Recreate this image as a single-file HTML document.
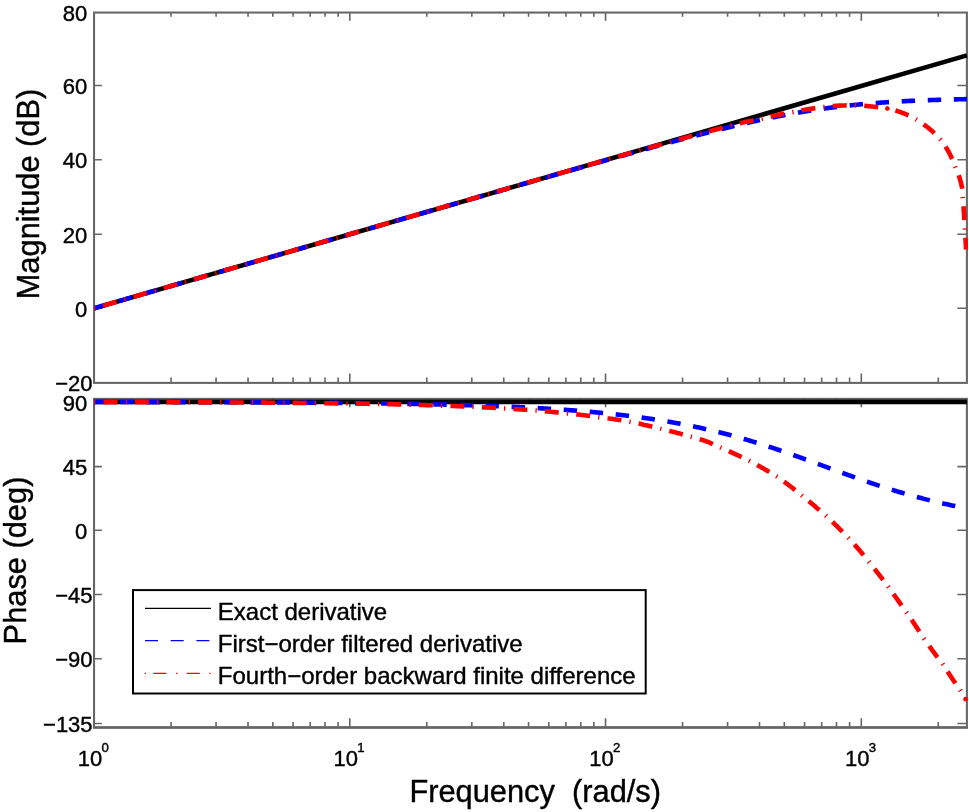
<!DOCTYPE html>
<html lang="en"><head><meta charset="utf-8"><title>Bode plot</title>
<style>html,body{margin:0;padding:0;background:#fff}body{width:969px;height:812px;overflow:hidden}svg{display:block}</style>
</head><body>
<svg width="969" height="812" viewBox="0 0 969 812" font-family="'Liberation Sans', Arial, Helvetica, sans-serif" fill="#000" stroke="#000" stroke-width="0.4">
<rect width="969" height="812" fill="#fff" stroke="none"/>
<defs><clipPath id="c1"><rect x="94.05" y="12.55" width="874.0500000000001" height="370.34999999999997"/></clipPath><clipPath id="c2"><rect x="94.05" y="397.85" width="874.0500000000001" height="329.6"/></clipPath></defs>
<g stroke="#666666" stroke-width="2.05" fill="none"><rect x="94.05" y="12.55" width="872.85" height="370.34999999999997"/><path d="M171.04,382.9v-5.5M171.04,12.55v4.2M216.07,382.9v-5.5M216.07,12.55v4.2M248.03,382.9v-5.5M248.03,12.55v4.2M272.81,382.9v-5.5M272.81,12.55v4.2M293.06,382.9v-5.5M293.06,12.55v4.2M310.18,382.9v-5.5M310.18,12.55v4.2M325.02,382.9v-5.5M325.02,12.55v4.2M338.10,382.9v-5.5M338.10,12.55v4.2M349.80,382.9v-9.3M349.80,12.55v8.3M426.79,382.9v-5.5M426.79,12.55v4.2M471.82,382.9v-5.5M471.82,12.55v4.2M503.78,382.9v-5.5M503.78,12.55v4.2M528.56,382.9v-5.5M528.56,12.55v4.2M548.81,382.9v-5.5M548.81,12.55v4.2M565.93,382.9v-5.5M565.93,12.55v4.2M580.77,382.9v-5.5M580.77,12.55v4.2M593.85,382.9v-5.5M593.85,12.55v4.2M605.55,382.9v-9.3M605.55,12.55v8.3M682.54,382.9v-5.5M682.54,12.55v4.2M727.57,382.9v-5.5M727.57,12.55v4.2M759.53,382.9v-5.5M759.53,12.55v4.2M784.31,382.9v-5.5M784.31,12.55v4.2M804.56,382.9v-5.5M804.56,12.55v4.2M821.68,382.9v-5.5M821.68,12.55v4.2M836.52,382.9v-5.5M836.52,12.55v4.2M849.60,382.9v-5.5M849.60,12.55v4.2M861.30,382.9v-9.3M861.30,12.55v8.3M938.29,382.9v-5.5M938.29,12.55v4.2M94.05,85.50h7.8M966.9,85.50h-9.5M94.05,159.70h7.8M966.9,159.70h-9.5M94.05,234.20h7.8M966.9,234.20h-9.5M94.05,308.30h7.8M966.9,308.30h-9.5" stroke-width="1.6"/></g>
<g clip-path="url(#c1)" fill="none" stroke-width="4.6">
<path d="M94.05,308.30 L966.90,55.40" stroke="#000"/>
<path d="M94.05,308.30 L95.05,308.01 L96.05,307.72 L97.05,307.43 L98.05,307.14 L99.05,306.85 L100.05,306.56 L101.05,306.27 L102.05,305.98 L103.05,305.69 L104.05,305.40 L105.05,305.11 L106.05,304.82 L107.05,304.53 L108.05,304.24 L109.05,303.95 L110.05,303.66 L111.05,303.37 L112.05,303.08 L113.05,302.80 L114.05,302.51 L115.05,302.22 L116.05,301.93 L117.05,301.64 L118.05,301.35 L119.05,301.06 L120.05,300.77 L121.05,300.48 L122.05,300.19 L123.05,299.90 L124.05,299.61 L125.05,299.32 L126.05,299.03 L127.05,298.74 L128.05,298.45 L129.05,298.16 L130.05,297.87 L131.05,297.58 L132.05,297.29 L133.05,297.00 L134.05,296.71 L135.05,296.42 L136.05,296.13 L137.05,295.84 L138.05,295.55 L139.05,295.26 L140.05,294.97 L141.05,294.68 L142.05,294.39 L143.05,294.10 L144.05,293.81 L145.05,293.52 L146.05,293.23 L147.05,292.94 L148.05,292.65 L149.05,292.36 L150.05,292.07 L151.05,291.79 L152.05,291.50 L153.05,291.21 L154.05,290.92 L155.05,290.63 L156.05,290.34 L157.05,290.05 L158.05,289.76 L159.05,289.47 L160.05,289.18 L161.05,288.89 L162.05,288.60 L163.05,288.31 L164.05,288.02 L165.05,287.73 L166.05,287.44 L167.05,287.15 L168.05,286.86 L169.05,286.57 L170.05,286.28 L171.05,285.99 L172.05,285.70 L173.05,285.41 L174.05,285.12 L175.05,284.83 L176.05,284.54 L177.05,284.25 L178.05,283.96 L179.05,283.67 L180.05,283.38 L181.05,283.09 L182.05,282.80 L183.05,282.51 L184.05,282.22 L185.05,281.93 L186.05,281.64 L187.05,281.35 L188.05,281.06 L189.05,280.78 L190.05,280.49 L191.05,280.20 L192.05,279.91 L193.05,279.62 L194.05,279.33 L195.05,279.04 L196.05,278.75 L197.05,278.46 L198.05,278.17 L199.05,277.88 L200.05,277.59 L201.05,277.30 L202.05,277.01 L203.05,276.72 L204.05,276.43 L205.05,276.14 L206.05,275.85 L207.05,275.56 L208.05,275.27 L209.05,274.98 L210.05,274.69 L211.05,274.40 L212.05,274.11 L213.05,273.82 L214.05,273.53 L215.05,273.24 L216.05,272.95 L217.05,272.66 L218.05,272.37 L219.05,272.08 L220.05,271.79 L221.05,271.50 L222.05,271.21 L223.05,270.92 L224.05,270.63 L225.05,270.34 L226.05,270.06 L227.05,269.77 L228.05,269.48 L229.05,269.19 L230.05,268.90 L231.05,268.61 L232.05,268.32 L233.05,268.03 L234.05,267.74 L235.05,267.45 L236.05,267.16 L237.05,266.87 L238.05,266.58 L239.05,266.29 L240.05,266.00 L241.05,265.71 L242.05,265.42 L243.05,265.13 L244.05,264.84 L245.05,264.55 L246.05,264.26 L247.05,263.97 L248.05,263.68 L249.05,263.39 L250.05,263.10 L251.05,262.81 L252.05,262.52 L253.05,262.23 L254.05,261.94 L255.05,261.65 L256.05,261.36 L257.05,261.07 L258.05,260.78 L259.05,260.49 L260.05,260.20 L261.05,259.91 L262.05,259.63 L263.05,259.34 L264.05,259.05 L265.05,258.76 L266.05,258.47 L267.05,258.18 L268.05,257.89 L269.05,257.60 L270.05,257.31 L271.05,257.02 L272.05,256.73 L273.05,256.44 L274.05,256.15 L275.05,255.86 L276.05,255.57 L277.05,255.28 L278.05,254.99 L279.05,254.70 L280.05,254.41 L281.05,254.12 L282.05,253.83 L283.05,253.54 L284.05,253.25 L285.05,252.96 L286.05,252.67 L287.05,252.38 L288.05,252.09 L289.05,251.80 L290.05,251.51 L291.05,251.22 L292.05,250.93 L293.05,250.64 L294.05,250.35 L295.05,250.06 L296.05,249.77 L297.05,249.48 L298.05,249.20 L299.05,248.91 L300.05,248.62 L301.05,248.33 L302.05,248.04 L303.05,247.75 L304.05,247.46 L305.05,247.17 L306.05,246.88 L307.05,246.59 L308.05,246.30 L309.05,246.01 L310.05,245.72 L311.05,245.43 L312.05,245.14 L313.05,244.85 L314.05,244.56 L315.05,244.27 L316.05,243.98 L317.05,243.69 L318.05,243.40 L319.05,243.11 L320.05,242.82 L321.05,242.53 L322.05,242.24 L323.05,241.95 L324.05,241.66 L325.05,241.37 L326.05,241.08 L327.05,240.79 L328.05,240.50 L329.05,240.21 L330.05,239.92 L331.05,239.63 L332.05,239.35 L333.05,239.06 L334.05,238.77 L335.05,238.48 L336.05,238.19 L337.05,237.90 L338.05,237.61 L339.05,237.32 L340.05,237.03 L341.05,236.74 L342.05,236.45 L343.05,236.16 L344.05,235.87 L345.05,235.58 L346.05,235.29 L347.05,235.00 L348.05,234.71 L349.05,234.42 L350.05,234.13 L351.05,233.84 L352.05,233.55 L353.05,233.26 L354.05,232.97 L355.05,232.68 L356.05,232.39 L357.05,232.10 L358.05,231.81 L359.05,231.52 L360.05,231.23 L361.05,230.94 L362.05,230.65 L363.05,230.37 L364.05,230.08 L365.05,229.79 L366.05,229.50 L367.05,229.21 L368.05,228.92 L369.05,228.63 L370.05,228.34 L371.05,228.05 L372.05,227.76 L373.05,227.47 L374.05,227.18 L375.05,226.89 L376.05,226.60 L377.05,226.31 L378.05,226.02 L379.05,225.73 L380.05,225.44 L381.05,225.15 L382.05,224.86 L383.05,224.57 L384.05,224.28 L385.05,223.99 L386.05,223.70 L387.05,223.41 L388.05,223.12 L389.05,222.83 L390.05,222.55 L391.05,222.26 L392.05,221.97 L393.05,221.68 L394.05,221.39 L395.05,221.10 L396.05,220.81 L397.05,220.52 L398.05,220.23 L399.05,219.94 L400.05,219.65 L401.05,219.36 L402.05,219.07 L403.05,218.78 L404.05,218.49 L405.05,218.20 L406.05,217.91 L407.05,217.62 L408.05,217.33 L409.05,217.04 L410.05,216.75 L411.05,216.46 L412.05,216.17 L413.05,215.88 L414.05,215.60 L415.05,215.31 L416.05,215.02 L417.05,214.73 L418.05,214.44 L419.05,214.15 L420.05,213.86 L421.05,213.57 L422.05,213.28 L423.05,212.99 L424.05,212.70 L425.05,212.41 L426.05,212.12 L427.05,211.83 L428.05,211.54 L429.05,211.25 L430.05,210.96 L431.05,210.67 L432.05,210.38 L433.05,210.09 L434.05,209.81 L435.05,209.52 L436.05,209.23 L437.05,208.94 L438.05,208.65 L439.05,208.36 L440.05,208.07 L441.05,207.78 L442.05,207.49 L443.05,207.20 L444.05,206.91 L445.05,206.62 L446.05,206.33 L447.05,206.04 L448.05,205.75 L449.05,205.46 L450.05,205.17 L451.05,204.89 L452.05,204.60 L453.05,204.31 L454.05,204.02 L455.05,203.73 L456.05,203.44 L457.05,203.15 L458.05,202.86 L459.05,202.57 L460.05,202.28 L461.05,201.99 L462.05,201.70 L463.05,201.41 L464.05,201.12 L465.05,200.83 L466.05,200.55 L467.05,200.26 L468.05,199.97 L469.05,199.68 L470.05,199.39 L471.05,199.10 L472.05,198.81 L473.05,198.52 L474.05,198.23 L475.05,197.94 L476.05,197.65 L477.05,197.36 L478.05,197.08 L479.05,196.79 L480.05,196.50 L481.05,196.21 L482.05,195.92 L483.05,195.63 L484.05,195.34 L485.05,195.05 L486.05,194.76 L487.05,194.47 L488.05,194.18 L489.05,193.90 L490.05,193.61 L491.05,193.32 L492.05,193.03 L493.05,192.74 L494.05,192.45 L495.05,192.16 L496.05,191.87 L497.05,191.58 L498.05,191.30 L499.05,191.01 L500.05,190.72 L501.05,190.43 L502.05,190.14 L503.05,189.85 L504.05,189.56 L505.05,189.27 L506.05,188.99 L507.05,188.70 L508.05,188.41 L509.05,188.12 L510.05,187.83 L511.05,187.54 L512.05,187.25 L513.05,186.96 L514.05,186.68 L515.05,186.39 L516.05,186.10 L517.05,185.81 L518.05,185.52 L519.05,185.23 L520.05,184.95 L521.05,184.66 L522.05,184.37 L523.05,184.08 L524.05,183.79 L525.05,183.50 L526.05,183.22 L527.05,182.93 L528.05,182.64 L529.05,182.35 L530.05,182.06 L531.05,181.77 L532.05,181.49 L533.05,181.20 L534.05,180.91 L535.05,180.62 L536.05,180.33 L537.05,180.05 L538.05,179.76 L539.05,179.47 L540.05,179.18 L541.05,178.89 L542.05,178.61 L543.05,178.32 L544.05,178.03 L545.05,177.74 L546.05,177.46 L547.05,177.17 L548.05,176.88 L549.05,176.59 L550.05,176.31 L551.05,176.02 L552.05,175.73 L553.05,175.44 L554.05,175.16 L555.05,174.87 L556.05,174.58 L557.05,174.29 L558.05,174.01 L559.05,173.72 L560.05,173.43 L561.05,173.15 L562.05,172.86 L563.05,172.57 L564.05,172.28 L565.05,172.00 L566.05,171.71 L567.05,171.42 L568.05,171.14 L569.05,170.85 L570.05,170.56 L571.05,170.28 L572.05,169.99 L573.05,169.70 L574.05,169.42 L575.05,169.13 L576.05,168.85 L577.05,168.56 L578.05,168.27 L579.05,167.99 L580.05,167.70 L581.05,167.42 L582.05,167.13 L583.05,166.84 L584.05,166.56 L585.05,166.27 L586.05,165.99 L587.05,165.70 L588.05,165.42 L589.05,165.13 L590.05,164.85 L591.05,164.56 L592.05,164.28 L593.05,163.99 L594.05,163.71 L595.05,163.42 L596.05,163.14 L597.05,162.85 L598.05,162.57 L599.05,162.28 L600.05,162.00 L601.05,161.71 L602.05,161.43 L603.05,161.15 L604.05,160.86 L605.05,160.58 L606.05,160.29 L607.05,160.01 L608.05,159.73 L609.05,159.44 L610.05,159.16 L611.05,158.88 L612.05,158.59 L613.05,158.31 L614.05,158.03 L615.05,157.75 L616.05,157.46 L617.05,157.18 L618.05,156.90 L619.05,156.62 L620.05,156.33 L621.05,156.05 L622.05,155.77 L623.05,155.49 L624.05,155.21 L625.05,154.93 L626.05,154.64 L627.05,154.36 L628.05,154.08 L629.05,153.80 L630.05,153.52 L631.05,153.24 L632.05,152.96 L633.05,152.68 L634.05,152.40 L635.05,152.12 L636.05,151.84 L637.05,151.56 L638.05,151.28 L639.05,151.00 L640.05,150.72 L641.05,150.45 L642.05,150.17 L643.05,149.89 L644.05,149.61 L645.05,149.33 L646.05,149.06 L647.05,148.78 L648.05,148.50 L649.05,148.22 L650.05,147.95 L651.05,147.67 L652.05,147.39 L653.05,147.12 L654.05,146.84 L655.05,146.57 L656.05,146.29 L657.05,146.02 L658.05,145.74 L659.05,145.47 L660.05,145.19 L661.05,144.92 L662.05,144.64 L663.05,144.37 L664.05,144.10 L665.05,143.82 L666.05,143.55 L667.05,143.28 L668.05,143.01 L669.05,142.73 L670.05,142.46 L671.05,142.19 L672.05,141.92 L673.05,141.65 L674.05,141.38 L675.05,141.11 L676.05,140.84 L677.05,140.57 L678.05,140.30 L679.05,140.03 L680.05,139.76 L681.05,139.50 L682.05,139.23 L683.05,138.96 L684.05,138.70 L685.05,138.43 L686.05,138.16 L687.05,137.90 L688.05,137.63 L689.05,137.37 L690.05,137.10 L691.05,136.84 L692.05,136.58 L693.05,136.31 L694.05,136.05 L695.05,135.79 L696.05,135.53 L697.05,135.26 L698.05,135.00 L699.05,134.74 L700.05,134.48 L701.05,134.22 L702.05,133.97 L703.05,133.71 L704.05,133.45 L705.05,133.19 L706.05,132.93 L707.05,132.68 L708.05,132.42 L709.05,132.17 L710.05,131.91 L711.05,131.66 L712.05,131.40 L713.05,131.15 L714.05,130.90 L715.05,130.65 L716.05,130.40 L717.05,130.15 L718.05,129.90 L719.05,129.65 L720.05,129.40 L721.05,129.15 L722.05,128.90 L723.05,128.65 L724.05,128.41 L725.05,128.16 L726.05,127.92 L727.05,127.67 L728.05,127.43 L729.05,127.19 L730.05,126.95 L731.05,126.70 L732.05,126.46 L733.05,126.22 L734.05,125.98 L735.05,125.75 L736.05,125.51 L737.05,125.27 L738.05,125.04 L739.05,124.80 L740.05,124.57 L741.05,124.33 L742.05,124.10 L743.05,123.87 L744.05,123.64 L745.05,123.41 L746.05,123.18 L747.05,122.95 L748.05,122.72 L749.05,122.49 L750.05,122.27 L751.05,122.04 L752.05,121.82 L753.05,121.60 L754.05,121.37 L755.05,121.15 L756.05,120.93 L757.05,120.71 L758.05,120.49 L759.05,120.28 L760.05,120.06 L761.05,119.84 L762.05,119.63 L763.05,119.42 L764.05,119.20 L765.05,118.99 L766.05,118.78 L767.05,118.57 L768.05,118.36 L769.05,118.16 L770.05,117.95 L771.05,117.75 L772.05,117.54 L773.05,117.34 L774.05,117.14 L775.05,116.94 L776.05,116.74 L777.05,116.54 L778.05,116.34 L779.05,116.14 L780.05,115.95 L781.05,115.75 L782.05,115.56 L783.05,115.37 L784.05,115.18 L785.05,114.99 L786.05,114.80 L787.05,114.61 L788.05,114.43 L789.05,114.24 L790.05,114.06 L791.05,113.88 L792.05,113.70 L793.05,113.52 L794.05,113.34 L795.05,113.16 L796.05,112.99 L797.05,112.81 L798.05,112.64 L799.05,112.47 L800.05,112.30 L801.05,112.13 L802.05,111.96 L803.05,111.79 L804.05,111.62 L805.05,111.46 L806.05,111.30 L807.05,111.13 L808.05,110.97 L809.05,110.81 L810.05,110.66 L811.05,110.50 L812.05,110.34 L813.05,110.19 L814.05,110.04 L815.05,109.89 L816.05,109.73 L817.05,109.59 L818.05,109.44 L819.05,109.29 L820.05,109.15 L821.05,109.00 L822.05,108.86 L823.05,108.72 L824.05,108.58 L825.05,108.44 L826.05,108.30 L827.05,108.17 L828.05,108.03 L829.05,107.90 L830.05,107.77 L831.05,107.64 L832.05,107.51 L833.05,107.38 L834.05,107.25 L835.05,107.13 L836.05,107.00 L837.05,106.88 L838.05,106.76 L839.05,106.64 L840.05,106.52 L841.05,106.40 L842.05,106.28 L843.05,106.17 L844.05,106.05 L845.05,105.94 L846.05,105.83 L847.05,105.72 L848.05,105.61 L849.05,105.50 L850.05,105.39 L851.05,105.29 L852.05,105.18 L853.05,105.08 L854.05,104.98 L855.05,104.87 L856.05,104.77 L857.05,104.68 L858.05,104.58 L859.05,104.48 L860.05,104.39 L861.05,104.29 L862.05,104.20 L863.05,104.11 L864.05,104.02 L865.05,103.93 L866.05,103.84 L867.05,103.75 L868.05,103.67 L869.05,103.58 L870.05,103.50 L871.05,103.42 L872.05,103.33 L873.05,103.25 L874.05,103.17 L875.05,103.09 L876.05,103.02 L877.05,102.94 L878.05,102.86 L879.05,102.79 L880.05,102.72 L881.05,102.64 L882.05,102.57 L883.05,102.50 L884.05,102.43 L885.05,102.36 L886.05,102.29 L887.05,102.23 L888.05,102.16 L889.05,102.10 L890.05,102.03 L891.05,101.97 L892.05,101.91 L893.05,101.85 L894.05,101.78 L895.05,101.73 L896.05,101.67 L897.05,101.61 L898.05,101.55 L899.05,101.49 L900.05,101.44 L901.05,101.38 L902.05,101.33 L903.05,101.28 L904.05,101.22 L905.05,101.17 L906.05,101.12 L907.05,101.07 L908.05,101.02 L909.05,100.97 L910.05,100.92 L911.05,100.88 L912.05,100.83 L913.05,100.79 L914.05,100.74 L915.05,100.70 L916.05,100.65 L917.05,100.61 L918.05,100.57 L919.05,100.52 L920.05,100.48 L921.05,100.44 L922.05,100.40 L923.05,100.36 L924.05,100.32 L925.05,100.29 L926.05,100.25 L927.05,100.21 L928.05,100.18 L929.05,100.14 L930.05,100.10 L931.05,100.07 L932.05,100.04 L933.05,100.00 L934.05,99.97 L935.05,99.94 L936.05,99.90 L937.05,99.87 L938.05,99.84 L939.05,99.81 L940.05,99.78 L941.05,99.75 L942.05,99.72 L943.05,99.69 L944.05,99.67 L945.05,99.64 L946.05,99.61 L947.05,99.58 L948.05,99.56 L949.05,99.53 L950.05,99.51 L951.05,99.48 L952.05,99.46 L953.05,99.43 L954.05,99.41 L955.05,99.38 L956.05,99.36 L957.05,99.34 L958.05,99.32 L959.05,99.29 L960.05,99.27 L961.05,99.25 L962.05,99.23 L963.05,99.21 L964.05,99.19 L965.05,99.17 L966.90,99.13" stroke="#0000ff" stroke-dasharray="13.4 12.7" stroke-dashoffset="0"/>
<path d="M94.05,308.30 L96.05,307.72 L98.05,307.14 L100.05,306.56 L102.05,305.98 L104.05,305.40 L106.05,304.82 L108.05,304.24 L110.05,303.66 L112.05,303.08 L114.05,302.51 L116.05,301.93 L118.05,301.35 L120.05,300.77 L122.05,300.19 L124.05,299.61 L126.05,299.03 L128.05,298.45 L130.05,297.87 L132.05,297.29 L134.05,296.71 L136.05,296.13 L138.05,295.55 L140.05,294.97 L142.05,294.39 L144.05,293.81 L146.05,293.23 L148.05,292.65 L150.05,292.07 L152.05,291.50 L154.05,290.92 L156.05,290.34 L158.05,289.76 L160.05,289.18 L162.05,288.60 L164.05,288.02 L166.05,287.44 L168.05,286.86 L170.05,286.28 L172.05,285.70 L174.05,285.12 L176.05,284.54 L178.05,283.96 L180.05,283.38 L182.05,282.80 L184.05,282.22 L186.05,281.64 L188.05,281.06 L190.05,280.49 L192.05,279.91 L194.05,279.33 L196.05,278.75 L198.05,278.17 L200.05,277.59 L202.05,277.01 L204.05,276.43 L206.05,275.85 L208.05,275.27 L210.05,274.69 L212.05,274.11 L214.05,273.53 L216.05,272.95 L218.05,272.37 L220.05,271.79 L222.05,271.21 L224.05,270.63 L226.05,270.05 L228.05,269.48 L230.05,268.90 L232.05,268.32 L234.05,267.74 L236.05,267.16 L238.05,266.58 L240.05,266.00 L242.05,265.42 L244.05,264.84 L246.05,264.26 L248.05,263.68 L250.05,263.10 L252.05,262.52 L254.05,261.94 L256.05,261.36 L258.05,260.78 L260.05,260.20 L262.05,259.62 L264.05,259.04 L266.05,258.47 L268.05,257.89 L270.05,257.31 L272.05,256.73 L274.05,256.15 L276.05,255.57 L278.05,254.99 L280.05,254.41 L282.05,253.83 L284.05,253.25 L286.05,252.67 L288.05,252.09 L290.05,251.51 L292.05,250.93 L294.05,250.35 L296.05,249.77 L298.05,249.19 L300.05,248.61 L302.05,248.03 L304.05,247.46 L306.05,246.88 L308.05,246.30 L310.05,245.72 L312.05,245.14 L314.05,244.56 L316.05,243.98 L318.05,243.40 L320.05,242.82 L322.05,242.24 L324.05,241.66 L326.05,241.08 L328.05,240.50 L330.05,239.92 L332.05,239.34 L334.05,238.76 L336.05,238.18 L338.05,237.60 L340.05,237.02 L342.05,236.45 L344.05,235.87 L346.05,235.29 L348.05,234.71 L350.05,234.13 L352.05,233.55 L354.05,232.97 L356.05,232.39 L358.05,231.81 L360.05,231.23 L362.05,230.65 L364.05,230.07 L366.05,229.49 L368.05,228.91 L370.05,228.33 L372.05,227.75 L374.05,227.17 L376.05,226.59 L378.05,226.01 L380.05,225.44 L382.05,224.86 L384.05,224.28 L386.05,223.70 L388.05,223.12 L390.05,222.54 L392.05,221.96 L394.05,221.38 L396.05,220.80 L398.05,220.22 L400.05,219.64 L402.05,219.06 L404.05,218.48 L406.05,217.90 L408.05,217.32 L410.05,216.74 L412.05,216.16 L414.05,215.58 L416.05,215.00 L418.05,214.43 L420.05,213.85 L422.05,213.27 L424.05,212.69 L426.05,212.11 L428.05,211.53 L430.05,210.95 L432.05,210.37 L434.05,209.79 L436.05,209.21 L438.05,208.63 L440.05,208.05 L442.05,207.47 L444.05,206.89 L446.05,206.31 L448.05,205.73 L450.05,205.15 L452.05,204.57 L454.05,204.00 L456.05,203.42 L458.05,202.84 L460.05,202.26 L462.05,201.68 L464.05,201.10 L466.05,200.52 L468.05,199.94 L470.05,199.36 L472.05,198.78 L474.05,198.20 L476.05,197.62 L478.05,197.04 L480.05,196.46 L482.05,195.88 L484.05,195.30 L486.05,194.72 L488.05,194.14 L490.05,193.56 L492.05,192.99 L494.05,192.41 L496.05,191.83 L498.05,191.25 L500.05,190.67 L502.05,190.09 L504.05,189.51 L506.05,188.93 L508.05,188.35 L510.05,187.77 L512.05,187.19 L514.05,186.61 L516.05,186.03 L518.05,185.45 L520.05,184.87 L522.05,184.29 L524.05,183.71 L526.05,183.13 L528.05,182.55 L530.05,181.98 L532.05,181.40 L534.05,180.82 L536.05,180.24 L538.05,179.66 L540.05,179.08 L542.05,178.50 L544.05,177.92 L546.05,177.34 L548.05,176.76 L550.05,176.18 L552.05,175.60 L554.05,175.02 L556.05,174.44 L558.05,173.86 L560.05,173.28 L562.05,172.70 L564.05,172.12 L566.05,171.54 L568.05,170.97 L570.05,170.39 L572.05,169.81 L574.05,169.23 L576.05,168.65 L578.05,168.07 L580.05,167.49 L582.05,166.91 L584.05,166.33 L586.05,165.75 L588.05,165.17 L590.05,164.59 L592.05,164.01 L594.05,163.43 L596.05,162.85 L598.05,162.27 L600.00,161.60 L601.14,161.27 L602.27,160.95 L603.41,160.62 L604.55,160.30 L605.69,159.97 L606.82,159.65 L607.96,159.32 L609.10,159.00 L610.24,158.67 L611.37,158.35 L612.51,158.03 L613.65,157.70 L614.79,157.38 L615.93,157.06 L617.06,156.73 L618.20,156.41 L619.34,156.09 L620.48,155.77 L621.62,155.45 L622.75,155.12 L623.89,154.80 L625.03,154.48 L626.17,154.16 L627.31,153.84 L628.45,153.52 L629.59,153.20 L630.72,152.88 L631.86,152.56 L633.00,152.24 L634.14,151.92 L635.28,151.60 L636.42,151.28 L637.56,150.96 L638.70,150.64 L639.84,150.32 L640.98,150.00 L642.11,149.68 L643.25,149.37 L644.39,149.05 L645.53,148.73 L646.67,148.41 L647.81,148.09 L648.95,147.78 L650.09,147.46 L651.23,147.14 L652.37,146.83 L653.51,146.51 L654.65,146.19 L655.79,145.88 L656.93,145.56 L658.07,145.24 L659.21,144.93 L660.35,144.61 L661.49,144.30 L662.63,143.98 L663.77,143.67 L664.91,143.35 L666.05,143.04 L667.19,142.73 L668.33,142.41 L669.47,142.10 L670.61,141.79 L671.75,141.48 L672.90,141.16 L674.04,140.85 L675.18,140.54 L676.32,140.23 L677.46,139.92 L678.60,139.61 L679.74,139.29 L680.88,138.98 L682.02,138.67 L683.17,138.36 L684.31,138.05 L685.45,137.74 L686.59,137.43 L687.73,137.12 L688.87,136.81 L690.01,136.50 L691.16,136.19 L692.30,135.87 L693.44,135.56 L694.58,135.25 L695.72,134.94 L696.86,134.63 L698.00,134.32 L699.14,134.01 L700.29,133.70 L701.43,133.39 L702.57,133.08 L703.71,132.77 L704.85,132.46 L705.99,132.15 L707.14,131.84 L708.28,131.54 L709.42,131.23 L710.57,130.93 L711.71,130.62 L712.85,130.32 L714.00,130.02 L715.14,129.72 L716.28,129.42 L717.43,129.12 L718.57,128.82 L719.72,128.52 L720.86,128.21 L722.00,127.91 L723.15,127.60 L724.29,127.30 L725.44,126.99 L726.58,126.69 L727.72,126.39 L728.87,126.09 L730.01,125.78 L731.16,125.49 L732.30,125.19 L733.45,124.89 L734.59,124.60 L735.74,124.31 L736.89,124.02 L738.04,123.73 L739.19,123.45 L740.33,123.17 L741.48,122.89 L742.63,122.62 L743.79,122.35 L744.94,122.09 L746.09,121.83 L747.25,121.58 L748.40,121.33 L749.56,121.09 L750.72,120.86 L751.88,120.64 L753.04,120.42 L754.21,120.20 L755.37,119.99 L756.53,119.77 L757.70,119.55 L758.86,119.33 L760.02,119.11 L761.18,118.88 L762.34,118.63 L763.49,118.38 L764.65,118.12 L765.80,117.85 L766.95,117.57 L768.10,117.29 L769.24,117.00 L770.39,116.71 L771.54,116.42 L772.69,116.14 L773.84,115.86 L774.99,115.58 L776.14,115.31 L777.29,115.05 L778.45,114.80 L779.61,114.56 L780.77,114.33 L781.93,114.10 L783.09,113.87 L784.25,113.65 L785.41,113.43 L786.57,113.21 L787.74,113.00 L788.90,112.78 L790.07,112.57 L791.23,112.35 L792.39,112.14 L793.55,111.92 L794.72,111.70 L795.88,111.48 L797.04,111.25 L798.20,111.03 L799.37,110.81 L800.53,110.58 L801.69,110.36 L802.85,110.14 L804.02,109.93 L805.18,109.72 L806.35,109.52 L807.51,109.32 L808.68,109.13 L809.85,108.95 L811.02,108.77 L812.19,108.60 L813.36,108.43 L814.53,108.26 L815.70,108.09 L816.87,107.93 L818.04,107.77 L819.22,107.62 L820.39,107.47 L821.57,107.32 L822.74,107.19 L823.91,107.05 L825.09,106.92 L826.27,106.79 L827.44,106.66 L828.62,106.53 L829.80,106.40 L830.97,106.27 L832.15,106.15 L833.33,106.03 L834.51,105.93 L835.69,105.83 L836.87,105.75 L838.05,105.68 L839.23,105.62 L840.41,105.58 L841.59,105.55 L842.77,105.51 L843.95,105.48 L845.14,105.45 L846.32,105.42 L847.50,105.40 L848.69,105.37 L849.87,105.35 L851.05,105.33 L852.24,105.32 L853.42,105.31 L854.60,105.30 L855.78,105.30 L856.97,105.31 L858.15,105.34 L859.33,105.39 L860.51,105.45 L861.69,105.53 L862.87,105.63 L864.05,105.73 L865.23,105.84 L866.41,105.96 L867.59,106.08 L868.76,106.20 L869.94,106.33 L871.12,106.44 L872.30,106.56 L873.47,106.67 L874.65,106.79 L875.83,106.92 L877.01,107.04 L878.19,107.18 L879.37,107.32 L880.55,107.46 L881.72,107.62 L882.89,107.78 L884.06,107.95 L885.23,108.13 L886.39,108.32 L887.55,108.53 L888.70,108.75 L889.85,108.99 L891.01,109.26 L892.16,109.55 L893.30,109.86 L894.45,110.19 L895.59,110.53 L896.73,110.89 L897.86,111.25 L898.98,111.63 L900.10,112.02 L901.21,112.41 L902.32,112.81 L903.42,113.22 L904.51,113.65 L905.61,114.10 L906.70,114.57 L907.78,115.06 L908.86,115.56 L909.93,116.08 L911.00,116.61 L912.06,117.15 L913.11,117.71 L914.15,118.27 L915.18,118.85 L916.20,119.43 L917.21,120.02 L918.22,120.63 L919.22,121.26 L920.21,121.91 L921.19,122.57 L922.17,123.25 L923.14,123.94 L924.10,124.64 L925.05,125.36 L926.00,126.08 L926.93,126.81 L927.86,127.55 L928.77,128.30 L929.67,129.05 L930.58,129.80 L931.48,130.57 L932.37,131.35 L933.26,132.15 L934.15,132.95 L935.02,133.77 L935.88,134.59 L936.73,135.43 L937.56,136.28 L938.37,137.14 L939.16,138.01 L939.93,138.90 L940.67,139.79 L941.40,140.70 L942.11,141.64 L942.81,142.58 L943.50,143.55 L944.18,144.53 L944.84,145.52 L945.49,146.52 L946.13,147.53 L946.75,148.55 L947.35,149.58 L947.94,150.61 L948.52,151.64 L949.08,152.68 L949.62,153.72 L950.15,154.77 L950.66,155.83 L951.16,156.90 L951.64,157.98 L952.11,159.06 L952.58,160.16 L953.04,161.25 L953.49,162.35 L953.94,163.45 L954.38,164.55 L954.83,165.65 L955.27,166.75 L955.72,167.84 L956.18,168.94 L956.64,170.03 L957.11,171.12 L957.56,172.22 L958.00,173.32 L958.43,174.43 L958.83,175.54 L959.21,176.65 L959.55,177.78 L959.88,178.91 L960.21,180.04 L960.54,181.19 L960.85,182.34 L961.15,183.49 L961.43,184.65 L961.68,185.81 L961.91,186.97 L962.10,188.13 L962.26,189.30 L962.37,190.47 L962.47,191.64 L962.56,192.82 L962.63,194.00 L962.70,195.19 L962.77,196.37 L962.84,197.55 L962.92,198.74 L963.01,199.92 L963.09,201.10 L963.18,202.28 L963.26,203.45 L963.34,204.63 L963.43,205.81 L963.51,206.99 L963.59,208.17 L963.67,209.36 L963.75,210.54 L963.83,211.72 L963.91,212.90 L963.99,214.08 L964.06,215.26 L964.14,216.44 L964.21,217.62 L964.29,218.80 L964.36,219.98 L964.43,221.16 L964.49,222.34 L964.56,223.52 L964.62,224.70 L964.68,225.88 L964.74,227.07 L964.80,228.25 L964.87,229.43 L964.94,230.61 L965.01,231.79 L965.09,232.97 L965.16,234.15 L965.24,235.33 L965.32,236.51 L965.40,237.69 L965.47,238.87 L965.55,240.05 L965.62,241.23 L965.69,242.41 L965.76,243.60 L965.83,244.78 L965.90,245.96 L965.97,247.14 L966.03,248.32 L966.10,249.50" stroke="#ff0000" stroke-dasharray="14 8.12 1.3 8.12" stroke-dashoffset="22.12"/>
<circle cx="887.4" cy="108.5" r="2.35" fill="#ff0000" stroke="none"/>
</g>
<g stroke="#666666" stroke-width="2.05" fill="none"><rect x="94.05" y="398.85" width="872.85" height="328.6"/><path d="M171.04,727.45v-5.5M171.04,398.85v4.2M216.07,727.45v-5.5M216.07,398.85v4.2M248.03,727.45v-5.5M248.03,398.85v4.2M272.81,727.45v-5.5M272.81,398.85v4.2M293.06,727.45v-5.5M293.06,398.85v4.2M310.18,727.45v-5.5M310.18,398.85v4.2M325.02,727.45v-5.5M325.02,398.85v4.2M338.10,727.45v-5.5M338.10,398.85v4.2M349.80,727.45v-9.3M349.80,398.85v8.3M426.79,727.45v-5.5M426.79,398.85v4.2M471.82,727.45v-5.5M471.82,398.85v4.2M503.78,727.45v-5.5M503.78,398.85v4.2M528.56,727.45v-5.5M528.56,398.85v4.2M548.81,727.45v-5.5M548.81,398.85v4.2M565.93,727.45v-5.5M565.93,398.85v4.2M580.77,727.45v-5.5M580.77,398.85v4.2M593.85,727.45v-5.5M593.85,398.85v4.2M605.55,727.45v-9.3M605.55,398.85v8.3M682.54,727.45v-5.5M682.54,398.85v4.2M727.57,727.45v-5.5M727.57,398.85v4.2M759.53,727.45v-5.5M759.53,398.85v4.2M784.31,727.45v-5.5M784.31,398.85v4.2M804.56,727.45v-5.5M804.56,398.85v4.2M821.68,727.45v-5.5M821.68,398.85v4.2M836.52,727.45v-5.5M836.52,398.85v4.2M849.60,727.45v-5.5M849.60,398.85v4.2M861.30,727.45v-9.3M861.30,398.85v8.3M938.29,727.45v-5.5M938.29,398.85v4.2M94.05,401.90h7.8M966.9,401.90h-9.5M94.05,466.60h7.8M966.9,466.60h-9.5M94.05,530.20h7.8M966.9,530.20h-9.5M94.05,594.50h7.8M966.9,594.50h-9.5M94.05,658.70h7.8M966.9,658.70h-9.5M94.05,723.50h7.8M966.9,723.50h-9.5" stroke-width="1.6"/></g>
<path d="M93.05,727.6H967.9" stroke="#666666" stroke-width="2.5" fill="none"/>
<g clip-path="url(#c2)" fill="none" stroke-width="4.6">
<path d="M94.05,401.90 L966.90,401.90" stroke="#000"/>
<path d="M94.05,402.01 L95.05,402.02 L96.05,402.02 L97.05,402.02 L98.05,402.02 L99.05,402.02 L100.05,402.02 L101.05,402.02 L102.05,402.02 L103.05,402.02 L104.05,402.03 L105.05,402.03 L106.05,402.03 L107.05,402.03 L108.05,402.03 L109.05,402.03 L110.05,402.03 L111.05,402.03 L112.05,402.03 L113.05,402.04 L114.05,402.04 L115.05,402.04 L116.05,402.04 L117.05,402.04 L118.05,402.04 L119.05,402.04 L120.05,402.04 L121.05,402.05 L122.05,402.05 L123.05,402.05 L124.05,402.05 L125.05,402.05 L126.05,402.05 L127.05,402.05 L128.05,402.06 L129.05,402.06 L130.05,402.06 L131.05,402.06 L132.05,402.06 L133.05,402.06 L134.05,402.06 L135.05,402.07 L136.05,402.07 L137.05,402.07 L138.05,402.07 L139.05,402.07 L140.05,402.07 L141.05,402.07 L142.05,402.08 L143.05,402.08 L144.05,402.08 L145.05,402.08 L146.05,402.08 L147.05,402.08 L148.05,402.09 L149.05,402.09 L150.05,402.09 L151.05,402.09 L152.05,402.09 L153.05,402.09 L154.05,402.10 L155.05,402.10 L156.05,402.10 L157.05,402.10 L158.05,402.10 L159.05,402.11 L160.05,402.11 L161.05,402.11 L162.05,402.11 L163.05,402.11 L164.05,402.11 L165.05,402.12 L166.05,402.12 L167.05,402.12 L168.05,402.12 L169.05,402.12 L170.05,402.13 L171.05,402.13 L172.05,402.13 L173.05,402.13 L174.05,402.14 L175.05,402.14 L176.05,402.14 L177.05,402.14 L178.05,402.14 L179.05,402.15 L180.05,402.15 L181.05,402.15 L182.05,402.15 L183.05,402.16 L184.05,402.16 L185.05,402.16 L186.05,402.16 L187.05,402.16 L188.05,402.17 L189.05,402.17 L190.05,402.17 L191.05,402.17 L192.05,402.18 L193.05,402.18 L194.05,402.18 L195.05,402.18 L196.05,402.19 L197.05,402.19 L198.05,402.19 L199.05,402.19 L200.05,402.20 L201.05,402.20 L202.05,402.20 L203.05,402.21 L204.05,402.21 L205.05,402.21 L206.05,402.21 L207.05,402.22 L208.05,402.22 L209.05,402.22 L210.05,402.23 L211.05,402.23 L212.05,402.23 L213.05,402.23 L214.05,402.24 L215.05,402.24 L216.05,402.24 L217.05,402.25 L218.05,402.25 L219.05,402.25 L220.05,402.26 L221.05,402.26 L222.05,402.26 L223.05,402.27 L224.05,402.27 L225.05,402.27 L226.05,402.28 L227.05,402.28 L228.05,402.28 L229.05,402.29 L230.05,402.29 L231.05,402.29 L232.05,402.30 L233.05,402.30 L234.05,402.30 L235.05,402.31 L236.05,402.31 L237.05,402.31 L238.05,402.32 L239.05,402.32 L240.05,402.33 L241.05,402.33 L242.05,402.33 L243.05,402.34 L244.05,402.34 L245.05,402.35 L246.05,402.35 L247.05,402.35 L248.05,402.36 L249.05,402.36 L250.05,402.37 L251.05,402.37 L252.05,402.37 L253.05,402.38 L254.05,402.38 L255.05,402.39 L256.05,402.39 L257.05,402.40 L258.05,402.40 L259.05,402.41 L260.05,402.41 L261.05,402.41 L262.05,402.42 L263.05,402.42 L264.05,402.43 L265.05,402.43 L266.05,402.44 L267.05,402.44 L268.05,402.45 L269.05,402.45 L270.05,402.46 L271.05,402.46 L272.05,402.47 L273.05,402.47 L274.05,402.48 L275.05,402.48 L276.05,402.49 L277.05,402.49 L278.05,402.50 L279.05,402.51 L280.05,402.51 L281.05,402.52 L282.05,402.52 L283.05,402.53 L284.05,402.53 L285.05,402.54 L286.05,402.54 L287.05,402.55 L288.05,402.56 L289.05,402.56 L290.05,402.57 L291.05,402.57 L292.05,402.58 L293.05,402.59 L294.05,402.59 L295.05,402.60 L296.05,402.61 L297.05,402.61 L298.05,402.62 L299.05,402.62 L300.05,402.63 L301.05,402.64 L302.05,402.64 L303.05,402.65 L304.05,402.66 L305.05,402.67 L306.05,402.67 L307.05,402.68 L308.05,402.69 L309.05,402.69 L310.05,402.70 L311.05,402.71 L312.05,402.71 L313.05,402.72 L314.05,402.73 L315.05,402.74 L316.05,402.74 L317.05,402.75 L318.05,402.76 L319.05,402.77 L320.05,402.78 L321.05,402.78 L322.05,402.79 L323.05,402.80 L324.05,402.81 L325.05,402.82 L326.05,402.82 L327.05,402.83 L328.05,402.84 L329.05,402.85 L330.05,402.86 L331.05,402.87 L332.05,402.88 L333.05,402.88 L334.05,402.89 L335.05,402.90 L336.05,402.91 L337.05,402.92 L338.05,402.93 L339.05,402.94 L340.05,402.95 L341.05,402.96 L342.05,402.97 L343.05,402.98 L344.05,402.99 L345.05,403.00 L346.05,403.01 L347.05,403.02 L348.05,403.03 L349.05,403.04 L350.05,403.05 L351.05,403.06 L352.05,403.07 L353.05,403.08 L354.05,403.09 L355.05,403.10 L356.05,403.11 L357.05,403.12 L358.05,403.13 L359.05,403.14 L360.05,403.16 L361.05,403.17 L362.05,403.18 L363.05,403.19 L364.05,403.20 L365.05,403.21 L366.05,403.22 L367.05,403.24 L368.05,403.25 L369.05,403.26 L370.05,403.27 L371.05,403.29 L372.05,403.30 L373.05,403.31 L374.05,403.32 L375.05,403.34 L376.05,403.35 L377.05,403.36 L378.05,403.38 L379.05,403.39 L380.05,403.40 L381.05,403.42 L382.05,403.43 L383.05,403.44 L384.05,403.46 L385.05,403.47 L386.05,403.49 L387.05,403.50 L388.05,403.51 L389.05,403.53 L390.05,403.54 L391.05,403.56 L392.05,403.57 L393.05,403.59 L394.05,403.60 L395.05,403.62 L396.05,403.64 L397.05,403.65 L398.05,403.67 L399.05,403.68 L400.05,403.70 L401.05,403.72 L402.05,403.73 L403.05,403.75 L404.05,403.77 L405.05,403.78 L406.05,403.80 L407.05,403.82 L408.05,403.83 L409.05,403.85 L410.05,403.87 L411.05,403.89 L412.05,403.90 L413.05,403.92 L414.05,403.94 L415.05,403.96 L416.05,403.98 L417.05,404.00 L418.05,404.02 L419.05,404.03 L420.05,404.05 L421.05,404.07 L422.05,404.09 L423.05,404.11 L424.05,404.13 L425.05,404.15 L426.05,404.17 L427.05,404.19 L428.05,404.21 L429.05,404.24 L430.05,404.26 L431.05,404.28 L432.05,404.30 L433.05,404.32 L434.05,404.34 L435.05,404.37 L436.05,404.39 L437.05,404.41 L438.05,404.43 L439.05,404.46 L440.05,404.48 L441.05,404.50 L442.05,404.53 L443.05,404.55 L444.05,404.57 L445.05,404.60 L446.05,404.62 L447.05,404.65 L448.05,404.67 L449.05,404.70 L450.05,404.72 L451.05,404.75 L452.05,404.77 L453.05,404.80 L454.05,404.82 L455.05,404.85 L456.05,404.88 L457.05,404.90 L458.05,404.93 L459.05,404.96 L460.05,404.99 L461.05,405.01 L462.05,405.04 L463.05,405.07 L464.05,405.10 L465.05,405.13 L466.05,405.16 L467.05,405.19 L468.05,405.22 L469.05,405.25 L470.05,405.28 L471.05,405.31 L472.05,405.34 L473.05,405.37 L474.05,405.40 L475.05,405.43 L476.05,405.46 L477.05,405.50 L478.05,405.53 L479.05,405.56 L480.05,405.60 L481.05,405.63 L482.05,405.66 L483.05,405.70 L484.05,405.73 L485.05,405.77 L486.05,405.80 L487.05,405.84 L488.05,405.87 L489.05,405.91 L490.05,405.94 L491.05,405.98 L492.05,406.02 L493.05,406.05 L494.05,406.09 L495.05,406.13 L496.05,406.17 L497.05,406.21 L498.05,406.24 L499.05,406.28 L500.05,406.32 L501.05,406.36 L502.05,406.40 L503.05,406.44 L504.05,406.49 L505.05,406.53 L506.05,406.57 L507.05,406.61 L508.05,406.65 L509.05,406.70 L510.05,406.74 L511.05,406.78 L512.05,406.83 L513.05,406.87 L514.05,406.92 L515.05,406.96 L516.05,407.01 L517.05,407.05 L518.05,407.10 L519.05,407.15 L520.05,407.19 L521.05,407.24 L522.05,407.29 L523.05,407.34 L524.05,407.39 L525.05,407.44 L526.05,407.49 L527.05,407.54 L528.05,407.59 L529.05,407.64 L530.05,407.69 L531.05,407.74 L532.05,407.80 L533.05,407.85 L534.05,407.90 L535.05,407.96 L536.05,408.01 L537.05,408.07 L538.05,408.12 L539.05,408.18 L540.05,408.23 L541.05,408.29 L542.05,408.35 L543.05,408.41 L544.05,408.47 L545.05,408.52 L546.05,408.58 L547.05,408.64 L548.05,408.71 L549.05,408.77 L550.05,408.83 L551.05,408.89 L552.05,408.95 L553.05,409.02 L554.05,409.08 L555.05,409.15 L556.05,409.21 L557.05,409.28 L558.05,409.34 L559.05,409.41 L560.05,409.48 L561.05,409.55 L562.05,409.61 L563.05,409.68 L564.05,409.75 L565.05,409.82 L566.05,409.90 L567.05,409.97 L568.05,410.04 L569.05,410.11 L570.05,410.19 L571.05,410.26 L572.05,410.34 L573.05,410.41 L574.05,410.49 L575.05,410.57 L576.05,410.64 L577.05,410.72 L578.05,410.80 L579.05,410.88 L580.05,410.96 L581.05,411.04 L582.05,411.12 L583.05,411.21 L584.05,411.29 L585.05,411.37 L586.05,411.46 L587.05,411.55 L588.05,411.63 L589.05,411.72 L590.05,411.81 L591.05,411.90 L592.05,411.98 L593.05,412.08 L594.05,412.17 L595.05,412.26 L596.05,412.35 L597.05,412.44 L598.05,412.54 L599.05,412.63 L600.05,412.73 L601.05,412.83 L602.05,412.92 L603.05,413.02 L604.05,413.12 L605.05,413.22 L606.05,413.32 L607.05,413.43 L608.05,413.53 L609.05,413.63 L610.05,413.74 L611.05,413.84 L612.05,413.95 L613.05,414.06 L614.05,414.16 L615.05,414.27 L616.05,414.38 L617.05,414.49 L618.05,414.61 L619.05,414.72 L620.05,414.83 L621.05,414.95 L622.05,415.06 L623.05,415.18 L624.05,415.30 L625.05,415.42 L626.05,415.54 L627.05,415.66 L628.05,415.78 L629.05,415.91 L630.05,416.03 L631.05,416.15 L632.05,416.28 L633.05,416.41 L634.05,416.54 L635.05,416.67 L636.05,416.80 L637.05,416.93 L638.05,417.06 L639.05,417.20 L640.05,417.33 L641.05,417.47 L642.05,417.60 L643.05,417.74 L644.05,417.88 L645.05,418.02 L646.05,418.16 L647.05,418.31 L648.05,418.45 L649.05,418.60 L650.05,418.74 L651.05,418.89 L652.05,419.04 L653.05,419.19 L654.05,419.34 L655.05,419.50 L656.05,419.65 L657.05,419.81 L658.05,419.96 L659.05,420.12 L660.05,420.28 L661.05,420.44 L662.05,420.60 L663.05,420.77 L664.05,420.93 L665.05,421.10 L666.05,421.26 L667.05,421.43 L668.05,421.60 L669.05,421.77 L670.05,421.95 L671.05,422.12 L672.05,422.30 L673.05,422.47 L674.05,422.65 L675.05,422.83 L676.05,423.01 L677.05,423.19 L678.05,423.38 L679.05,423.56 L680.05,423.75 L681.05,423.94 L682.05,424.13 L683.05,424.32 L684.05,424.51 L685.05,424.71 L686.05,424.90 L687.05,425.10 L688.05,425.30 L689.05,425.50 L690.05,425.70 L691.05,425.90 L692.05,426.11 L693.05,426.31 L694.05,426.52 L695.05,426.73 L696.05,426.94 L697.05,427.15 L698.05,427.37 L699.05,427.58 L700.05,427.80 L701.05,428.02 L702.05,428.24 L703.05,428.46 L704.05,428.69 L705.05,428.91 L706.05,429.14 L707.05,429.37 L708.05,429.60 L709.05,429.83 L710.05,430.06 L711.05,430.30 L712.05,430.53 L713.05,430.77 L714.05,431.01 L715.05,431.25 L716.05,431.49 L717.05,431.74 L718.05,431.98 L719.05,432.23 L720.05,432.48 L721.05,432.73 L722.05,432.99 L723.05,433.24 L724.05,433.50 L725.05,433.76 L726.05,434.01 L727.05,434.28 L728.05,434.54 L729.05,434.80 L730.05,435.07 L731.05,435.34 L732.05,435.61 L733.05,435.88 L734.05,436.15 L735.05,436.42 L736.05,436.70 L737.05,436.98 L738.05,437.26 L739.05,437.54 L740.05,437.82 L741.05,438.11 L742.05,438.39 L743.05,438.68 L744.05,438.97 L745.05,439.26 L746.05,439.55 L747.05,439.85 L748.05,440.14 L749.05,440.44 L750.05,440.74 L751.05,441.04 L752.05,441.34 L753.05,441.64 L754.05,441.95 L755.05,442.25 L756.05,442.56 L757.05,442.87 L758.05,443.18 L759.05,443.49 L760.05,443.81 L761.05,444.12 L762.05,444.44 L763.05,444.76 L764.05,445.08 L765.05,445.40 L766.05,445.72 L767.05,446.05 L768.05,446.37 L769.05,446.70 L770.05,447.03 L771.05,447.36 L772.05,447.69 L773.05,448.02 L774.05,448.35 L775.05,448.69 L776.05,449.02 L777.05,449.36 L778.05,449.70 L779.05,450.04 L780.05,450.38 L781.05,450.72 L782.05,451.06 L783.05,451.41 L784.05,451.75 L785.05,452.10 L786.05,452.45 L787.05,452.80 L788.05,453.15 L789.05,453.50 L790.05,453.85 L791.05,454.20 L792.05,454.55 L793.05,454.91 L794.05,455.26 L795.05,455.62 L796.05,455.97 L797.05,456.33 L798.05,456.69 L799.05,457.05 L800.05,457.41 L801.05,457.77 L802.05,458.13 L803.05,458.49 L804.05,458.85 L805.05,459.22 L806.05,459.58 L807.05,459.94 L808.05,460.31 L809.05,460.67 L810.05,461.04 L811.05,461.40 L812.05,461.77 L813.05,462.14 L814.05,462.50 L815.05,462.87 L816.05,463.24 L817.05,463.60 L818.05,463.97 L819.05,464.34 L820.05,464.71 L821.05,465.08 L822.05,465.45 L823.05,465.81 L824.05,466.18 L825.05,466.55 L826.05,466.92 L827.05,467.29 L828.05,467.66 L829.05,468.02 L830.05,468.39 L831.05,468.76 L832.05,469.13 L833.05,469.49 L834.05,469.86 L835.05,470.23 L836.05,470.59 L837.05,470.96 L838.05,471.33 L839.05,471.69 L840.05,472.06 L841.05,472.42 L842.05,472.78 L843.05,473.15 L844.05,473.51 L845.05,473.87 L846.05,474.23 L847.05,474.60 L848.05,474.96 L849.05,475.32 L850.05,475.67 L851.05,476.03 L852.05,476.39 L853.05,476.75 L854.05,477.10 L855.05,477.46 L856.05,477.81 L857.05,478.16 L858.05,478.52 L859.05,478.87 L860.05,479.22 L861.05,479.57 L862.05,479.92 L863.05,480.26 L864.05,480.61 L865.05,480.96 L866.05,481.30 L867.05,481.64 L868.05,481.98 L869.05,482.32 L870.05,482.66 L871.05,483.00 L872.05,483.34 L873.05,483.68 L874.05,484.01 L875.05,484.34 L876.05,484.68 L877.05,485.01 L878.05,485.34 L879.05,485.66 L880.05,485.99 L881.05,486.32 L882.05,486.64 L883.05,486.96 L884.05,487.28 L885.05,487.60 L886.05,487.92 L887.05,488.24 L888.05,488.55 L889.05,488.87 L890.05,489.18 L891.05,489.49 L892.05,489.80 L893.05,490.11 L894.05,490.42 L895.05,490.72 L896.05,491.02 L897.05,491.33 L898.05,491.63 L899.05,491.92 L900.05,492.22 L901.05,492.52 L902.05,492.81 L903.05,493.10 L904.05,493.39 L905.05,493.68 L906.05,493.97 L907.05,494.26 L908.05,494.54 L909.05,494.82 L910.05,495.10 L911.05,495.38 L912.05,495.66 L913.05,495.94 L914.05,496.21 L915.05,496.48 L916.05,496.76 L917.05,497.02 L918.05,497.29 L919.05,497.56 L920.05,497.82 L921.05,498.09 L922.05,498.35 L923.05,498.61 L924.05,498.86 L925.05,499.12 L926.05,499.38 L927.05,499.63 L928.05,499.88 L929.05,500.13 L930.05,500.38 L931.05,500.62 L932.05,500.87 L933.05,501.11 L934.05,501.35 L935.05,501.59 L936.05,501.83 L937.05,502.07 L938.05,502.30 L939.05,502.53 L940.05,502.77 L941.05,503.00 L942.05,503.22 L943.05,503.45 L944.05,503.68 L945.05,503.90 L946.05,504.12 L947.05,504.34 L948.05,504.56 L949.05,504.78 L950.05,504.99 L951.05,505.21 L952.05,505.42 L953.05,505.63 L954.05,505.84 L955.05,506.05 L956.05,506.25" stroke="#0000ff" stroke-dasharray="13.4 12.7" stroke-dashoffset="0"/>
<path d="M94.05,402.06 L96.05,402.07 L98.05,402.07 L100.05,402.07 L102.05,402.07 L104.05,402.08 L106.05,402.08 L108.05,402.08 L110.05,402.09 L112.05,402.09 L114.05,402.09 L116.05,402.10 L118.05,402.10 L120.05,402.10 L122.05,402.11 L124.05,402.11 L126.05,402.12 L128.05,402.12 L130.05,402.12 L132.05,402.13 L134.05,402.13 L136.05,402.14 L138.05,402.14 L140.05,402.15 L142.05,402.15 L144.05,402.15 L146.05,402.16 L148.05,402.16 L150.05,402.17 L152.05,402.17 L154.05,402.18 L156.05,402.18 L158.05,402.19 L160.05,402.19 L162.05,402.20 L164.05,402.20 L166.05,402.21 L168.05,402.22 L170.05,402.22 L172.05,402.23 L174.05,402.23 L176.05,402.24 L178.05,402.25 L180.05,402.25 L182.05,402.26 L184.05,402.26 L186.05,402.27 L188.05,402.28 L190.05,402.28 L192.05,402.29 L194.05,402.30 L196.05,402.31 L198.05,402.31 L200.05,402.32 L202.05,402.33 L204.05,402.34 L206.05,402.34 L208.05,402.35 L210.05,402.36 L212.05,402.37 L214.05,402.38 L216.05,402.39 L218.05,402.40 L220.05,402.40 L222.05,402.41 L224.05,402.42 L226.05,402.43 L228.05,402.44 L230.05,402.45 L232.05,402.46 L234.05,402.47 L236.05,402.48 L238.05,402.49 L240.05,402.50 L242.05,402.51 L244.05,402.53 L246.05,402.54 L248.05,402.55 L250.05,402.56 L252.05,402.57 L254.05,402.58 L256.05,402.60 L258.05,402.61 L260.05,402.62 L262.05,402.64 L264.05,402.65 L266.05,402.66 L268.05,402.68 L270.05,402.69 L272.05,402.71 L274.05,402.72 L276.05,402.73 L278.05,402.75 L280.05,402.77 L282.05,402.78 L284.05,402.80 L286.05,402.81 L288.05,402.83 L290.05,402.85 L292.05,402.86 L294.05,402.88 L296.05,402.90 L298.05,402.92 L300.05,402.94 L302.05,402.95 L304.05,402.97 L306.05,402.99 L308.05,403.01 L310.05,403.03 L312.05,403.05 L314.05,403.08 L316.05,403.10 L318.05,403.12 L320.05,403.14 L322.05,403.16 L324.05,403.19 L326.05,403.21 L328.05,403.23 L330.05,403.26 L332.05,403.28 L334.05,403.31 L336.05,403.33 L338.05,403.36 L340.05,403.38 L342.05,403.41 L344.05,403.44 L346.05,403.47 L348.05,403.50 L350.05,403.52 L352.05,403.55 L354.05,403.58 L356.05,403.62 L358.05,403.65 L360.05,403.68 L362.05,403.71 L364.05,403.74 L366.05,403.78 L368.05,403.81 L370.05,403.85 L372.05,403.88 L374.05,403.92 L376.05,403.95 L378.05,403.99 L380.05,404.03 L382.05,404.07 L384.05,404.11 L386.05,404.15 L388.05,404.19 L390.05,404.23 L392.05,404.27 L394.05,404.31 L396.05,404.36 L398.05,404.40 L400.05,404.45 L402.05,404.50 L404.05,404.54 L406.05,404.59 L408.05,404.64 L410.05,404.69 L412.05,404.74 L414.05,404.79 L416.05,404.84 L418.05,404.90 L420.05,404.95 L422.05,405.01 L424.05,405.06 L426.05,405.12 L428.05,405.18 L430.05,405.24 L432.05,405.30 L434.05,405.36 L436.05,405.42 L438.05,405.49 L440.05,405.55 L442.05,405.62 L444.05,405.69 L446.05,405.76 L448.05,405.83 L450.05,405.90 L452.05,405.97 L454.05,406.04 L456.05,406.12 L458.05,406.20 L460.05,406.27 L462.05,406.35 L464.05,406.43 L466.05,406.52 L468.05,406.60 L470.05,406.69 L472.05,406.77 L474.05,406.86 L476.05,406.95 L478.05,407.04 L480.05,407.14 L482.05,407.23 L484.05,407.33 L486.05,407.43 L488.05,407.53 L490.05,407.63 L492.05,407.74 L494.05,407.84 L496.05,407.95 L498.05,408.06 L500.05,408.17 L502.05,408.28 L504.05,408.40 L506.05,408.52 L508.05,408.64 L510.05,408.76 L512.05,408.89 L514.05,409.01 L516.05,409.14 L518.05,409.27 L520.05,409.41 L522.05,409.54 L524.05,409.68 L526.05,409.82 L528.05,409.97 L530.05,410.12 L532.05,410.26 L534.05,410.42 L536.05,410.57 L538.05,410.73 L540.05,410.89 L542.05,411.05 L544.05,411.22 L546.05,411.39 L548.05,411.56 L550.05,411.74 L552.05,411.92 L554.05,412.10 L556.05,412.28 L558.05,412.47 L560.05,412.66 L562.05,412.86 L564.05,413.06 L566.05,413.26 L568.05,413.47 L570.05,413.68 L572.05,413.89 L574.05,414.11 L576.05,414.33 L578.05,414.56 L580.05,414.79 L582.05,415.02 L584.05,415.26 L586.05,415.50 L588.05,415.75 L598.70,417.30 L599.89,417.43 L601.09,417.55 L602.28,417.69 L603.47,417.82 L604.66,417.97 L605.85,418.11 L607.04,418.26 L608.23,418.41 L609.42,418.56 L610.61,418.72 L611.80,418.88 L612.98,419.04 L614.17,419.21 L615.36,419.38 L616.54,419.55 L617.73,419.73 L618.91,419.91 L620.10,420.10 L621.28,420.29 L622.47,420.49 L623.65,420.69 L624.83,420.89 L626.01,421.10 L627.19,421.31 L628.37,421.52 L629.55,421.74 L630.73,421.95 L631.91,422.18 L633.09,422.41 L634.26,422.64 L635.44,422.88 L636.61,423.12 L637.79,423.37 L638.96,423.61 L640.13,423.87 L641.31,424.12 L642.48,424.38 L643.65,424.64 L644.82,424.90 L645.99,425.16 L647.15,425.43 L648.32,425.71 L649.49,425.99 L650.65,426.27 L651.82,426.55 L652.98,426.84 L654.15,427.13 L655.31,427.43 L656.47,427.72 L657.63,428.01 L658.80,428.30 L659.96,428.59 L661.13,428.88 L662.29,429.17 L663.46,429.45 L664.62,429.73 L665.79,430.02 L666.95,430.30 L668.12,430.59 L669.28,430.87 L670.44,431.16 L671.61,431.45 L672.77,431.74 L673.93,432.04 L675.09,432.34 L676.25,432.64 L677.41,432.95 L678.57,433.26 L679.73,433.57 L680.88,433.89 L682.04,434.21 L683.19,434.53 L684.35,434.86 L685.50,435.18 L686.66,435.51 L687.81,435.84 L688.96,436.17 L690.12,436.50 L691.27,436.83 L692.42,437.16 L693.58,437.49 L694.73,437.81 L695.89,438.14 L697.05,438.46 L698.20,438.79 L699.36,439.12 L700.51,439.46 L701.66,439.81 L702.80,440.16 L703.94,440.53 L705.07,440.92 L706.19,441.32 L707.31,441.74 L708.42,442.18 L709.53,442.64 L710.63,443.10 L711.73,443.58 L712.83,444.07 L713.92,444.57 L715.02,445.07 L716.11,445.57 L717.20,446.07 L718.30,446.57 L719.39,447.06 L720.49,447.55 L721.58,448.03 L722.68,448.52 L723.78,449.00 L724.87,449.49 L725.97,449.98 L727.06,450.47 L728.16,450.96 L729.25,451.45 L730.35,451.94 L731.44,452.44 L732.53,452.93 L733.62,453.43 L734.71,453.93 L735.80,454.43 L736.89,454.93 L737.98,455.43 L739.07,455.93 L740.16,456.43 L741.25,456.93 L742.34,457.44 L743.43,457.95 L744.51,458.46 L745.59,458.97 L746.67,459.49 L747.75,460.02 L748.82,460.56 L749.89,461.10 L750.95,461.65 L752.01,462.20 L753.07,462.77 L754.13,463.34 L755.18,463.91 L756.23,464.49 L757.28,465.07 L758.33,465.66 L759.37,466.25 L760.42,466.84 L761.46,467.43 L762.50,468.03 L763.54,468.62 L764.58,469.22 L765.62,469.82 L766.66,470.41 L767.70,471.01 L768.74,471.61 L769.78,472.22 L770.81,472.83 L771.85,473.44 L772.87,474.06 L773.89,474.69 L774.91,475.32 L775.92,475.97 L776.92,476.62 L777.92,477.28 L778.91,477.95 L779.90,478.63 L780.88,479.31 L781.86,480.01 L782.84,480.71 L783.81,481.41 L784.77,482.13 L785.74,482.84 L786.70,483.56 L787.66,484.28 L788.62,485.00 L789.57,485.73 L790.53,486.45 L791.48,487.19 L792.42,487.92 L793.36,488.66 L794.30,489.41 L795.24,490.16 L796.17,490.91 L797.11,491.66 L798.04,492.42 L798.97,493.17 L799.90,493.93 L800.83,494.69 L801.76,495.44 L802.69,496.20 L803.62,496.96 L804.55,497.71 L805.48,498.47 L806.41,499.23 L807.34,499.99 L808.27,500.75 L809.19,501.51 L810.12,502.27 L811.04,503.04 L811.97,503.80 L812.89,504.57 L813.81,505.34 L814.73,506.11 L815.65,506.88 L816.57,507.65 L817.49,508.42 L818.41,509.19 L819.33,509.96 L820.25,510.73 L821.16,511.50 L822.07,512.28 L822.98,513.07 L823.89,513.85 L824.79,514.64 L825.68,515.44 L826.57,516.25 L827.45,517.05 L828.33,517.87 L829.20,518.69 L830.07,519.52 L830.94,520.35 L831.80,521.18 L832.66,522.02 L833.52,522.86 L834.37,523.70 L835.23,524.54 L836.08,525.39 L836.93,526.23 L837.78,527.08 L838.63,527.93 L839.47,528.77 L840.32,529.62 L841.16,530.48 L842.01,531.33 L842.85,532.19 L843.68,533.05 L844.52,533.91 L845.35,534.77 L846.18,535.64 L847.01,536.50 L847.83,537.38 L848.65,538.25 L849.47,539.12 L850.29,540.00 L851.10,540.88 L851.91,541.77 L852.72,542.65 L853.53,543.54 L854.33,544.43 L855.13,545.32 L855.93,546.22 L856.72,547.12 L857.51,548.02 L858.30,548.92 L859.08,549.83 L859.86,550.74 L860.64,551.66 L861.41,552.58 L862.17,553.50 L862.93,554.43 L863.69,555.35 L864.45,556.29 L865.20,557.22 L865.95,558.15 L866.71,559.09 L867.46,560.02 L868.21,560.96 L868.96,561.90 L869.71,562.83 L870.46,563.77 L871.21,564.70 L871.95,565.64 L872.70,566.58 L873.44,567.52 L874.19,568.46 L874.93,569.40 L875.67,570.34 L876.41,571.29 L877.15,572.23 L877.89,573.17 L878.63,574.12 L879.36,575.07 L880.10,576.02 L880.83,576.96 L881.57,577.91 L882.30,578.86 L883.03,579.81 L883.76,580.77 L884.49,581.72 L885.21,582.67 L885.94,583.63 L886.66,584.59 L887.37,585.55 L888.09,586.51 L888.80,587.47 L889.51,588.44 L890.21,589.41 L890.92,590.38 L891.61,591.36 L892.31,592.34 L893.00,593.31 L893.70,594.29 L894.39,595.27 L895.08,596.25 L895.77,597.23 L896.46,598.21 L897.16,599.19 L897.85,600.17 L898.54,601.15 L899.24,602.12 L899.94,603.10 L900.63,604.07 L901.33,605.05 L902.03,606.03 L902.72,607.00 L903.41,607.98 L904.11,608.96 L904.80,609.94 L905.49,610.92 L906.17,611.91 L906.86,612.89 L907.54,613.88 L908.21,614.87 L908.89,615.86 L909.56,616.85 L910.24,617.84 L910.91,618.84 L911.58,619.83 L912.24,620.83 L912.91,621.82 L913.58,622.82 L914.24,623.82 L914.91,624.82 L915.58,625.81 L916.24,626.81 L916.90,627.81 L917.56,628.81 L918.22,629.82 L918.88,630.82 L919.53,631.82 L920.19,632.83 L920.84,633.83 L921.50,634.83 L922.16,635.83 L922.83,636.83 L923.50,637.83 L924.17,638.82 L924.85,639.81 L925.53,640.79 L926.22,641.77 L926.91,642.75 L927.60,643.73 L928.30,644.71 L928.99,645.69 L929.70,646.66 L930.40,647.63 L931.10,648.60 L931.81,649.57 L932.51,650.54 L933.22,651.51 L933.93,652.48 L934.64,653.44 L935.36,654.40 L936.09,655.36 L936.82,656.31 L937.55,657.26 L938.28,658.21 L939.01,659.16 L939.74,660.12 L940.46,661.07 L941.18,662.04 L941.89,663.00 L942.59,663.97 L943.28,664.95 L943.96,665.94 L944.63,666.93 L945.29,667.93 L945.95,668.93 L946.60,669.94 L947.25,670.95 L947.89,671.96 L948.54,672.97 L949.18,673.98 L949.83,674.99 L950.48,676.00 L951.14,677.00 L951.80,678.00 L952.47,679.00 L953.15,679.99 L953.83,680.98 L954.51,681.96 L955.20,682.94 L955.89,683.93 L956.57,684.91 L957.26,685.89 L957.95,686.88 L958.63,687.86 L959.30,688.85 L959.97,689.85 L960.63,690.85 L961.29,691.85 L961.93,692.86 L962.57,693.88 L963.20,694.90" stroke="#ff0000" stroke-dasharray="14 8.12 1.3 8.12" stroke-dashoffset="22.12"/>
<circle cx="965.6" cy="699.2" r="2.35" fill="#ff0000" stroke="none"/>
</g>
<g font-size="22" text-anchor="end">
<text x="87.2" y="21.1">80</text>
<text x="87.2" y="94.2">60</text>
<text x="87.2" y="168.4">40</text>
<text x="87.2" y="242.9">20</text>
<text x="87.2" y="317.0">0</text>
<text x="92.60000000000001" y="391.0">−20</text>
<text x="87.2" y="410.9">90</text>
<text x="87.2" y="475.3">45</text>
<text x="87.2" y="538.9">0</text>
<text x="92.60000000000001" y="603.2">−45</text>
<text x="92.60000000000001" y="667.4">−90</text>
<text x="92.60000000000001" y="732.2">−135</text>
</g>
<g font-size="22">
<text x="77.8" y="765.7">10<tspan font-size="13.2" dy="-14" dx="-0.8">0</tspan></text>
<text x="333.6" y="765.7">10<tspan font-size="13.2" dy="-14" dx="-0.8">1</tspan></text>
<text x="589.3" y="765.7">10<tspan font-size="13.2" dy="-14" dx="-0.8">2</tspan></text>
<text x="845.1" y="765.7">10<tspan font-size="13.2" dy="-14" dx="-0.8">3</tspan></text>
</g>
<text font-size="30.8" text-anchor="middle" transform="translate(38.5,194) rotate(-90)">Magnitude (dB)</text>
<text font-size="30.8" text-anchor="middle" transform="translate(26.4,560.5) rotate(-90)">Phase (deg)</text>
<text font-size="30.8" text-anchor="middle" x="535.2" y="802.1" xml:space="preserve">Frequency  (rad/s)</text>
<rect x="133" y="590.1" width="512.7" height="103.4" fill="#fff" stroke="#000" stroke-width="2"/>
<g fill="none" stroke-width="1.3">
<path d="M145,608.3H211" stroke="#000"/>
<path d="M145,640.7H211" stroke="#0000ff" stroke-dasharray="13 12.7"/>
<path d="M144.6,673.4H211" stroke="#ff0000" stroke-dasharray="1.4 7.3 13 9.8 1.4 9.3 13 9.5 1.4 9"/>
</g>
<g font-size="24">
<text x="217.8" y="619.8">Exact derivative</text>
<text x="217.8" y="651.6">First−order filtered derivative</text>
<text x="217.8" y="683.6">Fourth−order backward finite difference</text>
</g>
</svg>
</body></html>
